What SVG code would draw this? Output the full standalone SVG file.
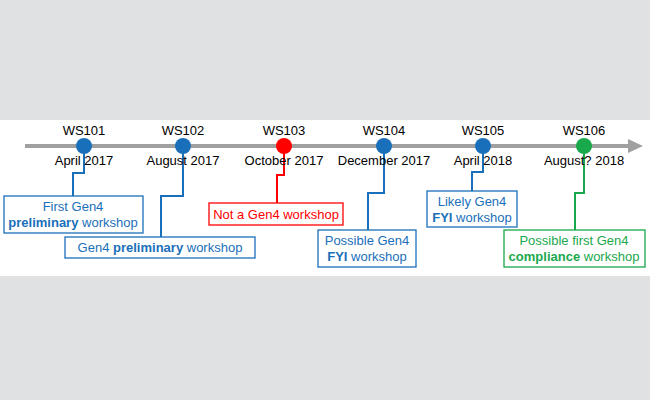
<svg xmlns="http://www.w3.org/2000/svg" width="650" height="400" viewBox="0 0 650 400">
<style>
text{font-family:"Liberation Sans",Arial,sans-serif;font-size:13px;text-anchor:middle}
.k{fill:#000}
.b{fill:#1a6fba}.r{fill:#f00}.g{fill:#1aa84c}
.bs{stroke:#1a6fba}.rs{stroke:#f00}.gs{stroke:#1aa84c}
rect{fill:#fff;stroke-width:1.3}
polyline{fill:none;stroke-width:2}
.t{font-weight:bold}
</style>
<rect x="0" y="0" width="650" height="400" style="fill:#e0e1e3;stroke:none"/>
<rect x="0" y="120" width="650" height="156" style="fill:#fff;stroke:none"/>
<g id="timeline">
<line x1="25" y1="146" x2="630" y2="146" stroke="#a0a0a0" stroke-width="4"/>
<polygon points="628,139 643,146 628,153" fill="#a0a0a0"/>
</g>
<g id="connectors">
<polyline class="bs" points="84,146 84,173 73,173 73,196"/>
<polyline class="bs" points="183,146 183,196 161,196 161,237"/>
<polyline class="rs" points="284,146 284,175 277,175 277,203"/>
<polyline class="bs" points="384,146 384,193 368,193 368,230"/>
<polyline class="bs" points="483,146 483,172 472,172 472,191"/>
<polyline class="gs" points="584,146 584,193 575,193 575,230"/>
</g>
<g id="ws101"><text class="k" x="84" y="135">WS101</text><circle cx="84" cy="146" r="8" fill="#1a6fba"/><text class="k" x="84" y="165">April 2017</text>
<rect class="bs" x="4" y="196" width="139" height="37"/><text class="b" x="73" y="211">First Gen4</text><text class="b" x="73" y="227"><tspan class="t">preliminary</tspan> workshop</text></g>
<g id="ws102"><text class="k" x="183" y="135">WS102</text><circle cx="183" cy="146" r="8" fill="#1a6fba"/><text class="k" x="183" y="165">August 2017</text>
<rect class="bs" x="65" y="237" width="190" height="21"/><text class="b" x="160" y="252">Gen4 <tspan class="t">preliminary</tspan> workshop</text></g>
<g id="ws103"><text class="k" x="284" y="135">WS103</text><circle cx="284" cy="146" r="8" fill="#f00"/><text class="k" x="284" y="165">October 2017</text>
<rect class="rs" x="209" y="203" width="134" height="22"/><text class="r" x="276" y="219">Not a Gen4 workshop</text></g>
<g id="ws104"><text class="k" x="384" y="135">WS104</text><circle cx="384" cy="146" r="8" fill="#1a6fba"/><text class="k" x="384" y="165">December 2017</text>
<rect class="bs" x="318" y="230" width="98" height="37"/><text class="b" x="367" y="245">Possible Gen4</text><text class="b" x="367" y="261"><tspan class="t">FYI</tspan> workshop</text></g>
<g id="ws105"><text class="k" x="483" y="135">WS105</text><circle cx="483" cy="146" r="8" fill="#1a6fba"/><text class="k" x="483" y="165">April 2018</text>
<rect class="bs" x="427" y="191" width="90" height="36"/><text class="b" x="472" y="206">Likely Gen4</text><text class="b" x="472" y="222"><tspan class="t">FYI</tspan> workshop</text></g>
<g id="ws106"><text class="k" x="584" y="135">WS106</text><circle cx="584" cy="146" r="8" fill="#1aa84c"/><text class="k" x="584" y="165">August? 2018</text>
<rect class="gs" x="504" y="230" width="141" height="37"/><text class="g" x="574" y="245">Possible first Gen4</text><text class="g" x="574" y="261"><tspan class="t">compliance</tspan> workshop</text></g>
</svg>
